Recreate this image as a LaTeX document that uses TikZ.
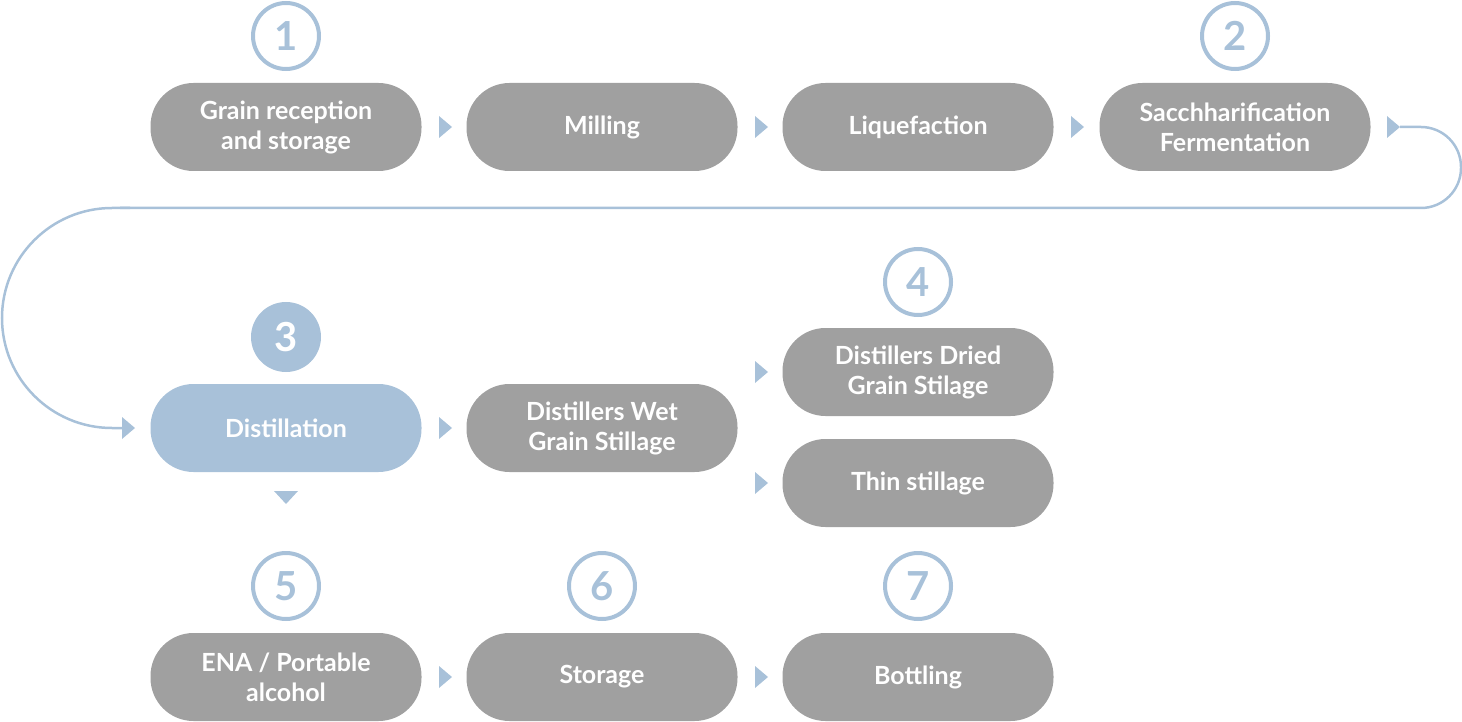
\documentclass[tikz,border=0pt]{standalone}
\usepackage{fontspec}
\setmainfont{Lato}[BoldFont={Lato Bold}]
\begin{document}
\definecolor{bx}{HTML}{A0A0A0}
\definecolor{bl}{HTML}{A8C1D9}
\begin{tikzpicture}[x=1pt,y=-1pt,
 box/.style={rounded corners=43pt,fill=bx,minimum width=271pt,minimum height=88pt,text=white,font=\fontsize{25}{30}\selectfont\bfseries,align=center,inner sep=0},
 num/.style={circle,draw=bl,line width=4pt,minimum size=66pt,text=bl,font=\fontsize{40}{40}\selectfont\bfseries,inner sep=0},
 tri/.style={fill=bl,draw=none}]
\useasboundingbox (0,0) rectangle (1462,722);
\node[box] (b1) at (286,127) {Grain reception\\and storage};
\node[box] (b2) at (602,127) {Milling};
\node[box] (b3) at (918,127) {Liquefaction};
\node[box] (b4) at (1235,127) {Sacchharification\\Fermentation};
\node[box,fill=bl] (d) at (286,428) {Distillation};
\node[box] (w) at (602,428) {Distillers Wet\\Grain Stillage};
\node[box] (dd) at (918,372) {Distillers Dried\\Grain Stilage};
\node[box] (th) at (918,483) {Thin stillage};
\node[box] (e) at (286,677) {ENA / Portable\\alcohol};
\node[box] (s) at (602,677) {Storage};
\node[box] (bo) at (918,677) {Bottling};
\node[num] (n1) at (286,36) {1};
\node[num] (n2) at (1235,36) {2};
\node[num,fill=bl,text=white] (n3) at (286,337) {3};
\node[num] (n4) at (918,282) {4};
\node[num] (n5) at (286,586) {5};
\node[num] (n6) at (602,586) {6};
\node[num] (n7) at (918,586) {7};
\foreach \x/\y in {445/127,761/127,1077/127,1393/127,445/428,761/372,761/483,445/677,761/677}
  \fill[bl] (\x-6,\y-11) -- (\x+7,\y) -- (\x-6,\y+11) -- cycle;
\fill[bl] (274,491) -- (298,491) -- (286,504) -- cycle;
\coordinate (c1) at (1400,127);
\coordinate (c2) at (131,428);
\draw[bl,line width=2.5pt,rounded corners=40pt] (c1) -- (1461,127) -- (1461,208) -- (120,208);
\draw[bl,line width=2.5pt,rounded corners=110pt] (130,208) -- (2,208) -- (2,428) -- (c2);
\fill[bl] (122,417) -- (135,428) -- (122,439) -- cycle;
\end{tikzpicture}
\end{document}
